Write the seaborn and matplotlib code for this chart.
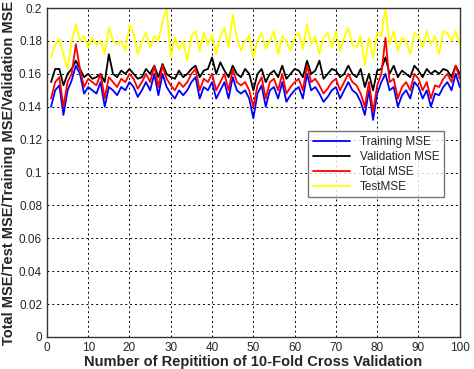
import numpy as np
import pandas as pd
import seaborn as sns
import matplotlib.pyplot as plt

REPETITION = list(range(1, 101))

TRAINING_MSE = [
    .140, .150, .153, .135, .150, .156, .165, .160, .148, .152,
    .150, .148, .155, .140, .152, .150, .147, .152, .150, .155,
    .152, .146, .150, .155, .150, .160, .147, .160, .152, .148,
    .145, .150, .147, .150, .155, .158, .145, .152, .150, .155,
    .145, .150, .155, .145, .158, .150, .148, .150, .145, .133,
    .148, .153, .140, .150, .152, .145, .155, .143, .147, .150,
    .152, .145, .160, .150, .152, .148, .143, .146, .150, .152,
    .145, .150, .155, .150, .148, .143, .135, .150, .132, .148,
    .155, .160, .150, .152, .140, .147, .150, .145, .155, .152,
    .145, .150, .140, .148, .147, .152, .155, .150, .160, .152,
]

VALIDATION_MSE = [
    .155, .163, .163, .153, .160, .163, .168, .163, .158, .160,
    .157, .158, .160, .155, .172, .160, .158, .162, .160, .163,
    .160, .157, .158, .163, .160, .165, .158, .166, .160, .158,
    .157, .162, .158, .160, .163, .165, .158, .162, .163, .170,
    .160, .167, .162, .158, .165, .160, .158, .163, .160, .150,
    .160, .163, .155, .160, .162, .158, .165, .157, .160, .163,
    .162, .158, .168, .160, .162, .168, .157, .160, .163, .162,
    .158, .160, .165, .160, .158, .163, .152, .160, .150, .162,
    .163, .170, .160, .165, .158, .162, .160, .158, .165, .162,
    .158, .163, .160, .162, .160, .163, .162, .158, .165, .160,
]

TOTAL_MSE = [
    .145, .155, .158, .140, .155, .160, .178, .163, .152, .157,
    .155, .153, .160, .145, .158, .155, .152, .157, .155, .160,
    .157, .151, .155, .160, .155, .165, .152, .165, .157, .153,
    .150, .155, .152, .155, .160, .163, .150, .157, .155, .160,
    .150, .155, .160, .150, .163, .155, .153, .155, .150, .140,
    .153, .158, .145, .155, .157, .150, .160, .148, .152, .155,
    .157, .150, .165, .155, .157, .153, .148, .151, .155, .157,
    .150, .155, .160, .155, .153, .148, .140, .155, .137, .153,
    .160, .182, .155, .157, .145, .152, .155, .150, .160, .157,
    .150, .155, .145, .153, .152, .157, .160, .155, .165, .157,
]

TEST_MSE = [
    .170, .178, .181, .172, .163, .180, .190, .180, .183, .176,
    .182, .178, .180, .172, .188, .180, .178, .180, .174, .190,
    .185, .172, .180, .185, .176, .183, .180, .192, .200, .170,
    .182, .175, .180, .168, .183, .186, .174, .185, .178, .184,
    .172, .183, .188, .176, .196, .182, .174, .180, .183, .170,
    .180, .185, .175, .180, .186, .172, .183, .180, .174, .182,
    .185, .175, .190, .178, .183, .172, .182, .185, .176, .186,
    .174, .182, .188, .178, .176, .183, .165, .182, .170, .185,
    .183, .200, .178, .186, .174, .182, .180, .172, .185, .183,
    .176, .186, .178, .183, .172, .186, .185, .180, .186, .178,
]

SERIES_NAMES = ["Training MSE", "Validation MSE", "Total MSE", "TestMSE"]
SERIES_COLORS = ["#0000ff", "#000000", "#ff0000", "#ffff00"]


def main():
    df = pd.DataFrame({
        "rep": REPETITION * 4,
        "mse": TRAINING_MSE + VALIDATION_MSE + TOTAL_MSE + TEST_MSE,
        "series": np.repeat(SERIES_NAMES, len(REPETITION)),
    })

    sns.set_theme(style="white")
    plt.rcParams["font.family"] = ["Liberation Sans", "DejaVu Sans"]

    fig = plt.figure(figsize=(4.74, 3.69), dpi=100)
    ax = fig.add_axes([0.099, 0.087, 0.871, 0.891])

    sns.lineplot(
        data=df, x="rep", y="mse", hue="series", hue_order=SERIES_NAMES,
        palette=SERIES_COLORS, linewidth=1.3, ax=ax,
    )

    ax.set_xlim(0, 100)
    ax.set_ylim(0, 0.2)
    ax.set_xticks(range(0, 101, 10))
    ax.set_yticks(np.arange(0, 0.201, 0.02))
    ax.set_yticklabels(["0", "0.02", "0.04", "0.06", "0.08", "0.1",
                        "0.12", "0.14", "0.16", "0.18", "0.2"])
    ax.tick_params(direction="in", labelsize=8.5, length=3, color="black")
    ax.grid(True, color="black", linestyle=(0, (2, 3)), linewidth=0.7)
    for spine in ax.spines.values():
        spine.set_color("#333333")
        spine.set_linewidth(1)

    ax.set_xlabel("Number of Repitition of 10-Fold Cross Validation",
                  fontsize=10.5, fontweight="bold", labelpad=1)
    ax.set_ylabel("Total MSE/Test MSE/Training MSE/Validation MSE",
                  fontsize=10.5, fontweight="bold", labelpad=2)

    leg = ax.legend(loc="upper left", bbox_to_anchor=(0.632, 0.626),
                    fontsize=8.5, frameon=True, fancybox=False,
                    borderaxespad=0, handlelength=3.2, labelspacing=0.25)
    leg.get_frame().set_edgecolor("#555555")
    leg.get_frame().set_linewidth(1)

    fig.savefig("out.png", dpi=100)
    plt.close(fig)


if __name__ == "__main__":
    main()
